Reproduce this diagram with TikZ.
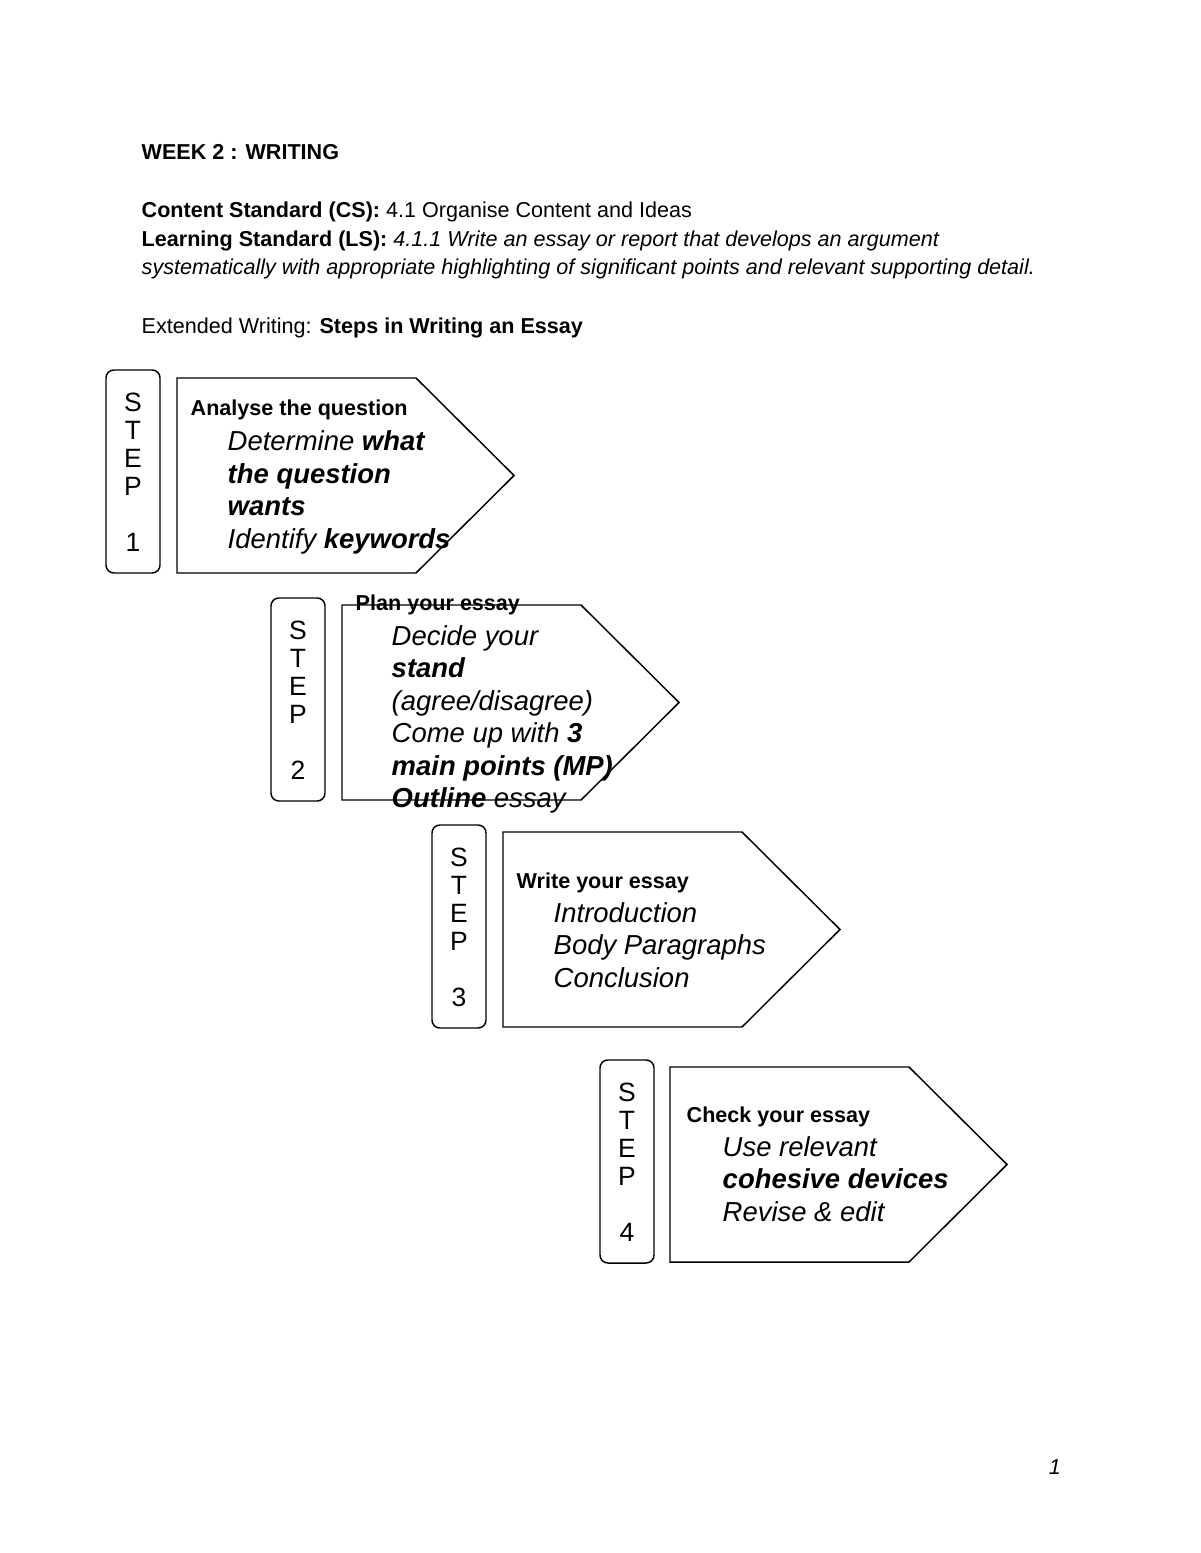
\documentclass[tikz,border=0pt]{standalone}
\usepackage{fontspec}
\setmainfont{Liberation Sans}
\begin{document}
\begin{tikzpicture}[
    x=0.51pt, y=-0.51pt, line width=0.75pt,
    stepbox/.style={rounded corners=4pt},
    letter/.style={anchor=base, inner sep=0pt, font=\fontsize{13.5}{15}\selectfont},
    head/.style={anchor=base west, inner sep=0pt, font=\fontsize{11}{13}\selectfont\bfseries},
    item/.style={anchor=base west, inner sep=0pt, font=\fontsize{14}{16}\selectfont\itshape},
    txt/.style={anchor=base west, inner sep=0pt, font=\fontsize{11}{13}\selectfont},
]
\useasboundingbox (0,0) rectangle (1200,1553);
% page header
\node[txt] (week) at (141,160) {\textbf{WEEK 2 : WRITING}};
\node[txt] (cs)   at (141,218) {\textbf{Content Standard (CS):} 4.1 Organise Content and Ideas};
\node[txt] (ls)   at (141,246) {\textbf{Learning Standard (LS):} \textit{4.1.1 Write an essay or report that develops an argument}};
\node[txt] (ls2)  at (141,274) {\textit{systematically with appropriate highlighting of significant points and relevant supporting detail.}};
\node[txt] (ext)  at (141,333) {Extended Writing: \textbf{Steps in Writing an Essay}};
% step boxes and arrows
\foreach \n/\bx/\by/\ax/\ay in {1/106/370/177/378, 2/271/598/342/605, 3/432/825/503/832, 4/600/1060/670/1067}{
  \draw[stepbox] (\bx,\by) rectangle ++(54,203);
  \draw (\ax,\ay) -- ++(239,0) -- ++(98,97.5) -- ++(-98,97.5) -- ++(-239,0) -- cycle;
  \foreach \l [count=\i] in {S,T,E,P}
    \node[letter] (s\n-\i) at (\bx+27,\by+41+28*\i-28) {\l};
  \node[letter] (s\n-num) at (\bx+27,\by+181) {\n};
}
% step 1
\node[head] (h1) at (190,415) {Analyse the question};
\foreach \t [count=\i] in {{Determine \textbf{what}}, \textbf{the question}, \textbf{wants}, {Identify \textbf{keywords}}}
  \node[item] (a\i) at (227,418+32.5*\i) {\t};
% step 2
\node[head] (h2) at (355,610) {Plan your essay};
\foreach \t [count=\i] in {Decide your, \textbf{stand}, (agree/disagree), {Come up with \textbf{3}}, \textbf{main points (MP)}, {\textbf{Outline} essay}}
  \node[item] (b\i) at (391,612.5+32.5*\i) {\t};
% step 3
\node[head] (h3) at (516,888) {Write your essay};
\foreach \t [count=\i] in {Introduction, Body Paragraphs, Conclusion}
  \node[item] (c\i) at (553,889.5+32.5*\i) {\t};
% step 4
\node[head] (h4) at (686,1122) {Check your essay};
\foreach \t [count=\i] in {Use relevant, \textbf{cohesive devices}, Revise \& edit}
  \node[item] (d\i) at (722,1123.5+32.5*\i) {\t};
\node[txt, font=\fontsize{11}{13}\selectfont\itshape] (page) at (1048,1474) {1};
\end{tikzpicture}
\end{document}
